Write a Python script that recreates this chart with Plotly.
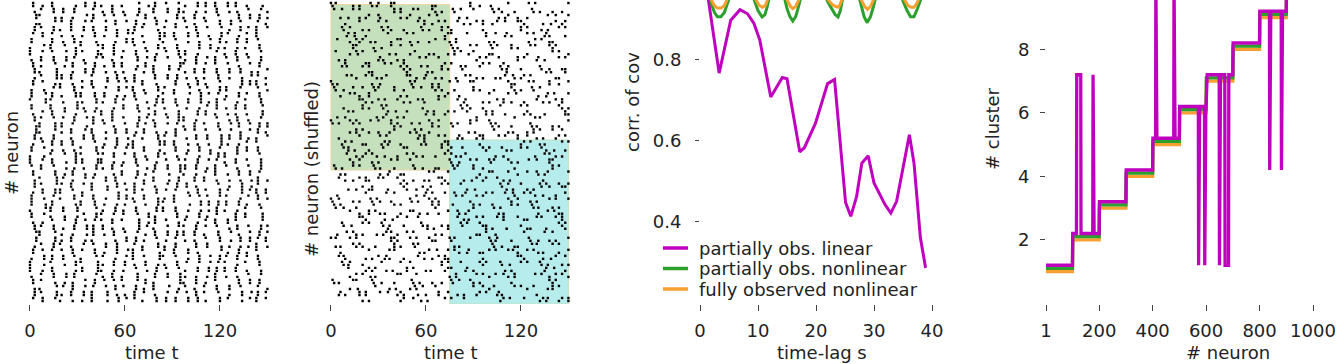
import plotly.graph_objects as go

W, H = 1340, 364

# ---------------- Panel 1 / 2 : spike rasters (schematic) ----------------
N_NEURON = 100
# centres of the population waves read from the sorted raster
wave_times = [2, 15, 28, 41, 54, 67, 80, 93, 106, 119, 132, 145]
# slow zig-zag lag (time units) along the sorted neuron axis
lag_profile = [0, 1, 2, 2, 1, 0, -1, -2, -2, -1, 0, 1, 1, 0, -1, -1, -2, -1]
wave_phase = [0, 9, 4, 13, 7, 2, 15, 11, 5, 16, 8, 3]
fire_pattern = "1101110111101101110111"      # neurons joining the first volley
second_pattern = "0110100110110010101101"    # neurons joining the second volley
second_shift = 6                              # delay of the second volley
second_phase = [5, 12, 1, 8, 16, 3, 10, 6, 14, 0, 9, 13]

# shuffled raster: each neuron's phase inside the ~12.5 cycle
shuffle_phase = [0, 7, 3, 10, 5, 1, 8, 12, 4, 9, 2, 11, 6]
shuffle_pattern = "1011011010110111010"

# green / cyan observation windows (time, neuron)
obs1_t = [0, 75]
obs1_n = [0.5, 55.5]
obs2_t = [75, 150]
obs2_n = [45.5, 100]

# ---------------- Panel 3 : corr. of cov vs time-lag ----------------
lin_s = [0, 1, 3.3, 5.3, 6.9, 8.2, 9.3, 10.3, 12.2, 14.2, 15.0, 17.2, 18.0, 19.9,
         22.0, 23.2, 25.1, 26.0, 27.0, 27.9, 29.0, 30.0, 31.9, 32.9, 33.9, 36.1,
         36.9, 38.0, 38.9]
lin_v = [1.0, 0.99, 0.766, 0.896, 0.922, 0.912, 0.888, 0.848, 0.707, 0.755, 0.752,
         0.572, 0.582, 0.642, 0.74, 0.75, 0.447, 0.413, 0.462, 0.544, 0.562, 0.495,
         0.442, 0.421, 0.45, 0.614, 0.544, 0.36, 0.286]

pnl_s = [0, 1.5, 2.0, 2.5, 3.0, 3.6, 4.2, 4.7, 5.0, 5.5, 7.2,
         9.0, 9.5, 10.0, 10.7, 11.2, 11.6, 12.0, 13.3,
         14.5, 15.0, 15.5, 16.0, 16.5, 17.0, 17.5, 19.7,
         21.5, 22.0, 22.7, 23.3, 23.8, 24.2, 24.6, 26.1,
         27.3, 27.8, 28.3, 28.8, 29.4, 29.9, 30.4, 32.6,
         34.6, 35.1, 35.7, 36.3, 36.9, 37.5, 38.0, 38.5, 39.0]
pnl_v = [1.0, 0.965, 0.935, 0.915, 0.905, 0.905, 0.915, 0.935, 0.946, 0.97, 0.99,
         0.96, 0.94, 0.92, 0.904, 0.91, 0.93, 0.955, 0.975,
         0.955, 0.925, 0.905, 0.894, 0.905, 0.93, 0.96, 0.99,
         0.96, 0.942, 0.925, 0.91, 0.904, 0.92, 0.95, 0.975,
         0.96, 0.93, 0.905, 0.89, 0.905, 0.93, 0.958, 0.99,
         0.96, 0.94, 0.92, 0.905, 0.905, 0.925, 0.946, 0.965, 0.975]

fnl_s = [0, 1.5, 2.0, 2.5, 3.0, 3.6, 4.2, 4.6, 5.0, 7.2,
         9.2, 9.7, 10.2, 10.8, 11.3, 11.7, 12.1, 13.3,
         14.6, 15.1, 15.6, 16.0, 16.5, 17.0, 17.4, 19.7,
         21.6, 22.1, 22.8, 23.4, 23.9, 24.3, 24.6, 26.1,
         27.4, 27.9, 28.4, 28.9, 29.4, 29.9, 30.3, 32.6,
         34.8, 35.3, 35.8, 36.4, 36.9, 37.4, 37.9, 38.4, 39.0]
fnl_v = [1.0, 0.975, 0.945, 0.932, 0.926, 0.926, 0.932, 0.945, 0.965, 0.995,
         0.965, 0.945, 0.933, 0.928, 0.933, 0.948, 0.965, 0.98,
         0.965, 0.944, 0.93, 0.925, 0.93, 0.945, 0.965, 0.995,
         0.965, 0.946, 0.935, 0.93, 0.928, 0.94, 0.96, 0.98,
         0.965, 0.944, 0.93, 0.923, 0.93, 0.946, 0.965, 0.995,
         0.965, 0.946, 0.933, 0.928, 0.928, 0.938, 0.955, 0.97, 0.98]

legend_names = ["partially obs. linear", "partially obs. nonlinear",
                "fully observed nonlinear"]

# ---------------- Panel 4 : cluster assignment ----------------
cluster_size = 100
n_clusters = 10
mis_start = [116, 177, 412, 480, 572, 595, 650, 671, 838, 882]
mis_end = [131, 177, 412, 480, 572, 595, 650, 684, 838, 882]
mis_cluster = [7, 7, 10, 10, 1, 1, 1, 1, 4, 4]

MAG = "#bf00bf"
GRN = "#2ca02c"
ORG = "#f5a030"
TXT = "#222222"
FS = 18
FONT = "DejaVu Sans"

# ---- build rasters ----
r1_t, r1_n = [], []
L = len(lag_profile)


def add1(t, i):
    if 0 <= t <= 150:
        r1_t.append(t)
        r1_n.append(i)


for k, wt in enumerate(wave_times):
    for i in range(N_NEURON):
        if fire_pattern[(i + 7 * k) % len(fire_pattern)] == "1":
            add1(wt + lag_profile[(i // 2 + wave_phase[k]) % L], i)
        if second_pattern[(i + 5 * k) % len(second_pattern)] == "1":
            add1(wt + second_shift + lag_profile[(i // 2 + second_phase[k]) % L], i)

r2_t, r2_n = [], []
P = len(shuffle_phase)
for i in range(N_NEURON):
    ph = shuffle_phase[(i * 5) % P]
    for m in range(13):
        if shuffle_pattern[(i * 3 + m * 7) % len(shuffle_pattern)] != "1":
            continue
        base = ph + 12.5 * m
        for d in (0, 3 + (i + m) % 3):
            if d and shuffle_pattern[(i + m) % len(shuffle_pattern)] != "1":
                continue
            t = round(base + d)
            if 0 <= t <= 150:
                r2_t.append(t)
                r2_n.append(i)

# ---- cluster arrays ----
neurons = list(range(1, cluster_size * n_clusters + 1))
true_cl = [(n - 1) // cluster_size + 1 for n in neurons]
est_cl = list(true_cl)
for a, b, c in zip(mis_start, mis_end, mis_cluster):
    for n in range(a, b + 1):
        est_cl[n - 1] = c

fig = go.Figure()

mk = dict(symbol="square", size=2.4, color="black", line_width=0)
fig.add_trace(go.Scatter(x=r1_t, y=r1_n, mode="markers", xaxis="x", yaxis="y",
                         marker=mk, showlegend=False, hoverinfo="skip"))
fig.add_trace(go.Scatter(x=r2_t, y=r2_n, mode="markers", xaxis="x2", yaxis="y2",
                         marker=mk, showlegend=False, hoverinfo="skip"))

fig.add_trace(go.Scatter(x=lin_s, y=lin_v, mode="lines", xaxis="x3", yaxis="y3",
                         line=dict(color=MAG, width=3), name=legend_names[0],
                         showlegend=False))
fig.add_trace(go.Scatter(x=pnl_s, y=pnl_v, mode="lines", xaxis="x3", yaxis="y3",
                         line=dict(color=GRN, width=3), name=legend_names[1],
                         showlegend=False))
fig.add_trace(go.Scatter(x=fnl_s, y=fnl_v, mode="lines", xaxis="x3", yaxis="y3",
                         line=dict(color=ORG, width=3), name=legend_names[2],
                         showlegend=False))

fig.add_trace(go.Scatter(x=neurons, y=[c + 0.0 for c in true_cl], mode="lines",
                         xaxis="x4", yaxis="y4", line=dict(color=ORG, width=3.3),
                         showlegend=False))
fig.add_trace(go.Scatter(x=neurons, y=[c + 0.1 for c in true_cl], mode="lines",
                         xaxis="x4", yaxis="y4", line=dict(color=GRN, width=3.3),
                         showlegend=False))
fig.add_trace(go.Scatter(x=neurons, y=[c + 0.2 for c in est_cl], mode="lines",
                         xaxis="x4", yaxis="y4", line=dict(color=MAG, width=3.3),
                         showlegend=False))

# observation windows
fig.add_shape(type="rect", xref="x2", yref="y2", x0=obs1_t[0], x1=obs1_t[1],
              y0=obs1_n[0], y1=obs1_n[1], fillcolor="#c4e0bd",
              line=dict(color="#efd6a6", width=1), layer="below")
fig.add_shape(type="rect", xref="x2", yref="y2", x0=obs2_t[0], x1=obs2_t[1],
              y0=obs2_n[0], y1=obs2_n[1], fillcolor="#b6ecec",
              line=dict(color="#bfe3c0", width=1), layer="below")

# manual legend for panel 3
for row, (name, col) in enumerate(zip(legend_names, [MAG, GRN, ORG])):
    yy = 248 + 20.5 * row
    fig.add_shape(type="line", xref="paper", yref="paper", x0=663 / W, x1=688 / W,
                  y0=1 - yy / H, y1=1 - yy / H, line=dict(color=col, width=3.5))
    fig.add_annotation(text=name, x=697 / W, y=1 - yy / H, xref="paper", yref="paper",
                       showarrow=False, xanchor="left", yanchor="middle",
                       font=dict(size=FS, color=TXT, family=FONT))


def px(a, b):
    return [a / W, b / W]


ydom = [60 / H, 1.0]
tc = dict(showgrid=False, zeroline=False, showline=False, ticks="outside",
          tickcolor="#444", tickwidth=1, automargin=False,
          tickfont=dict(size=FS, color=TXT, family=FONT))
noax = dict(showticklabels=False, ticks="", showgrid=False, zeroline=False,
            showline=False, automargin=False)

fig.update_layout(
    template="none",
    width=W, height=H, margin=dict(l=0, r=0, t=0, b=0, pad=0, autoexpand=False),
    paper_bgcolor="white", plot_bgcolor="white", showlegend=False,
    font=dict(family=FONT, size=FS, color=TXT),
    xaxis=dict(domain=px(27.6, 269), range=[-1.5, 151], tickvals=[0, 60, 120],
               ticklen=6, ticklabelstandoff=4, anchor="y", **tc),
    yaxis=dict(domain=ydom, range=[100, -1], anchor="x", **noax),
    xaxis2=dict(domain=px(328.6, 570), range=[-1.5, 151], tickvals=[0, 60, 120],
                ticklen=6, ticklabelstandoff=4, anchor="y2", **tc),
    yaxis2=dict(domain=ydom, range=[100, -1], anchor="x2", **noax),
    xaxis3=dict(domain=px(700, 932), range=[0, 40], tickvals=[0, 10, 20, 30, 40],
                ticklen=6, ticklabelstandoff=4, anchor="y3", **tc),
    yaxis3=dict(domain=ydom, range=[0.197, 0.946], tickvals=[0.4, 0.6, 0.8],
                ticktext=["0.4", "0.6", "0.8"], ticklen=4, ticklabelstandoff=10,
                anchor="x3", **tc),
    xaxis4=dict(domain=px(1046, 1313), range=[1, 1000],
                tickvals=[1, 200, 400, 600, 800, 1000], ticklen=6, ticklabelstandoff=4,
                anchor="y4", **tc),
    yaxis4=dict(domain=ydom, range=[-0.02, 9.555], tickvals=[2, 4, 6, 8],
                ticklen=5, ticklabelstandoff=7, anchor="x4", **tc),
)


def ann(text, x, y, angle=0):
    fig.add_annotation(text=text, x=x / W, y=1 - y / H, xref="paper", yref="paper",
                       showarrow=False, textangle=angle, xanchor="center", yanchor="middle",
                       font=dict(size=FS, color=TXT, family=FONT))


ann("time t", 151, 352)
ann("time t", 450, 352)
ann("time-lag s", 822, 352)
ann("# neuron", 1228, 352)
ann("# neuron", 11, 153, -90)
ann("# neuron (shuffled)", 311, 169, -90)
ann("corr. of cov", 632, 102, -90)
ann("# cluster", 992, 129, -90)

fig.write_html(
    "out.html",
    config={"responsive": False, "displayModeBar": False},
    post_script="document.body.style.margin='0';document.body.style.padding='0';"
                "document.documentElement.style.overflow='hidden';",
)
